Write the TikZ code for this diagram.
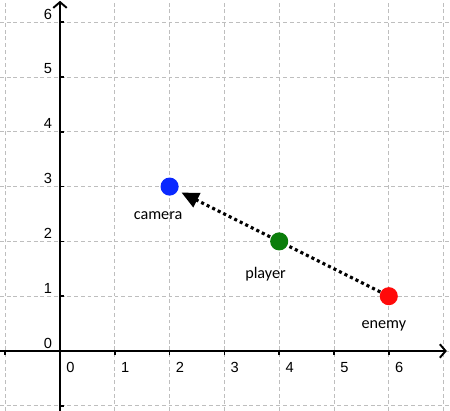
\documentclass[tikz,border=0pt]{standalone}
\usepackage{fontspec}
\setmainfont{Liberation Sans}
\newfontfamily\lblfont{Carlito}
\usetikzlibrary{arrows.meta}
\pgfdeclarelayer{bg}
\pgfsetlayers{bg,main}
\definecolor{gridgray}{RGB}{190,190,190}
\definecolor{ptblue}{RGB}{10,40,255}
\definecolor{ptgreen}{RGB}{10,125,10}
\definecolor{ptred}{RGB}{255,10,10}
\begin{document}
\begin{tikzpicture}[x=1cm,y=1cm,
  gridline/.style={gridgray, line width=0.5pt, dash pattern=on 2pt off 1.5pt},
  axis/.style={line width=1pt, -{Straight Barb[length=3pt,width=7pt]}},
  tick/.style={line width=0.8pt},
  pt/.style={circle, inner sep=0pt, minimum size=0.33cm},
  lbl/.style={font=\lblfont\fontsize{8.4}{9}\selectfont, inner sep=0pt},
  num/.style={font=\fontsize{7.6}{9}\selectfont, inner sep=0pt},
  dotline/.style={line width=1.6pt, dash pattern=on 1.6pt off 1.6pt,
    -{Triangle[length=9pt,width=8pt]}, shorten >=2pt}
  ]
\useasboundingbox (-1.095,-1.095) rectangle (7.117,6.405);
\node[pt, fill=ptblue] (camera) at (2,3) {};
\node[pt, fill=ptgreen] (player) at (4,2) {};
\node[pt, fill=ptred] (enemy) at (6,1) {};
\node[lbl] (cameralbl) at (1.79,2.47) {camera};
\node[lbl] (playerlbl) at (3.75,1.40) {player};
\node[lbl] (enemylbl) at (5.91,0.45) {enemy};
\foreach \x in {0,...,6} \node[num] (xl\x) at (\x+0.19,-0.30) {\x};
\foreach \y in {0,...,6} \node[num] (yl\y) at (-0.22,\y+0.146) {\y};
\begin{pgfonlayer}{bg}
\foreach \x in {-1,...,7} \draw[gridline] (\x,-1.095) -- (\x,6.405);
\foreach \y in {-1,...,6} \draw[gridline] (-1.095,\y) -- (7.117,\y);
\draw[axis] (-1.095,0) -- (7.06,0);
\draw[axis] (0,-1.095) -- (0,6.39);
\foreach \x in {-1,1,2,3,4,5,6} \draw[tick] (\x,0) -- (\x,-0.07);
\foreach \y in {-1,1,2,3,4,5,6} \draw[tick] (0,\y) -- (0.07,\y);
\draw[dotline] (enemy) -- (camera);
\end{pgfonlayer}
\end{tikzpicture}
\end{document}
